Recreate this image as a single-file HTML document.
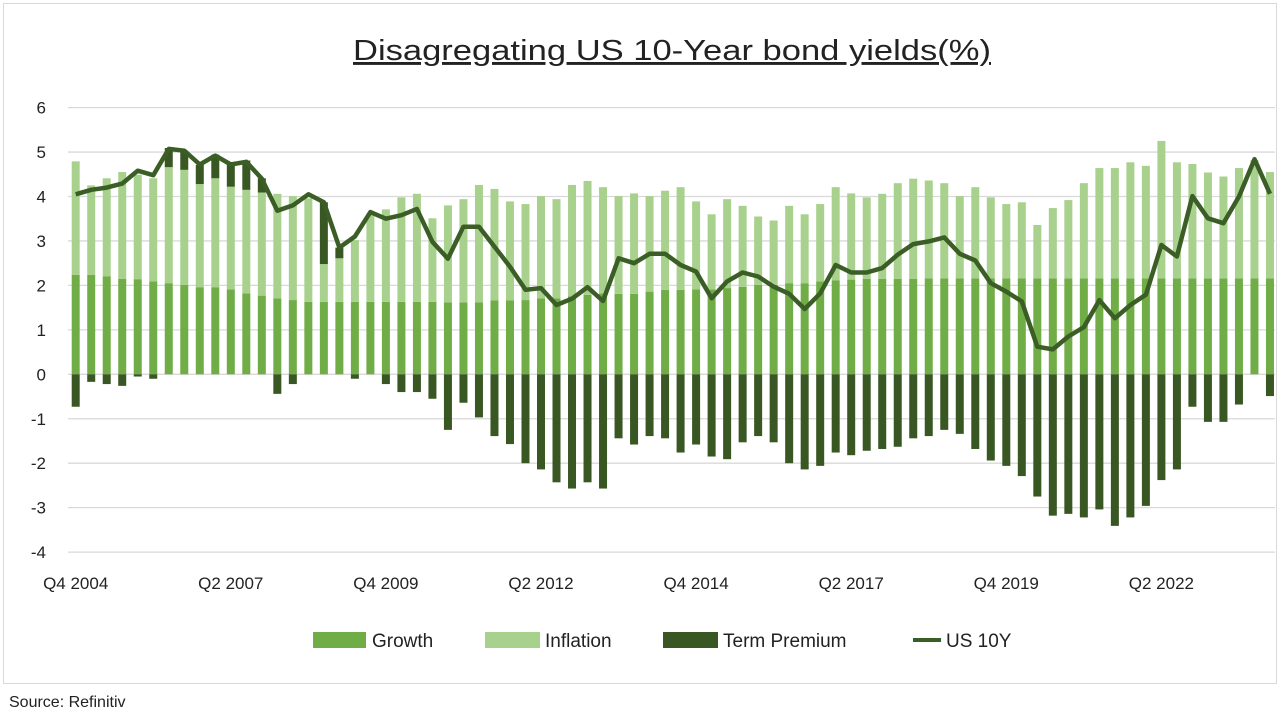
<!DOCTYPE html>
<html><head><meta charset="utf-8"><style>
html,body{margin:0;padding:0;background:#fff;}
body{width:1280px;height:720px;overflow:hidden;font-family:"Liberation Sans",sans-serif;}
</style></head><body>
<svg id="chart" width="1280" height="720" xmlns="http://www.w3.org/2000/svg" font-family="Liberation Sans, sans-serif">
<rect x="3.5" y="3.5" width="1273" height="680" fill="none" stroke="#d9d9d9" stroke-width="1"/>
<text x="353" y="60" font-size="29" textLength="638" lengthAdjust="spacingAndGlyphs" fill="#222" text-decoration="underline">Disagregating US 10-Year bond yields(%)</text>
<g id="grid"></g><g id="bars"></g><g id="line"></g><g id="axes"></g>
<g font-size="19" fill="#222">
<rect x="313" y="632" width="53" height="16" fill="#70ad47"/>
<text x="372" y="647">Growth</text>
<rect x="485" y="632" width="55" height="16" fill="#a9d18e"/>
<text x="545" y="647">Inflation</text>
<rect x="663" y="632" width="55" height="16" fill="#385723"/>
<text x="723" y="647">Term Premium</text>
<line x1="913" x2="941" y1="640" y2="640" stroke="#3b5e26" stroke-width="4"/>
<text x="946" y="647">US 10Y</text>
</g>
<text x="9" y="707" font-size="16" fill="#222">Source: Refinitiv</text>
</svg>
<script>
const growth=[2.24,2.24,2.2,2.15,2.14,2.09,2.05,2.01,1.96,1.96,1.91,1.82,1.77,1.71,1.67,1.63,1.63,1.63,1.63,1.63,1.63,1.63,1.63,1.63,1.62,
1.62,1.62,1.66,1.66,1.67,1.71,1.71,1.75,1.79,1.82,1.81,1.81,1.86,1.9,1.9,1.91,1.91,1.94,1.97,2.01,2.01,2.05,2.05,2.09,2.11,2.13,
2.15,2.15,2.15,2.15,2.16,2.16,2.16,2.16,2.16,2.16,2.16,2.16,2.16,2.16,2.16,2.16,2.16,2.16,2.16,2.16,2.16,2.16,2.16,2.16,2.16,2.16,2.16];
const inflation=[2.55,2.01,2.21,2.4,2.35,2.32,2.61,2.59,2.32,2.45,2.31,2.33,2.32,2.35,2.34,2.33,0.85,0.98,1.39,1.99,2.08,2.35,2.43,1.88,2.18,
2.32,2.64,2.51,2.23,2.16,2.3,2.23,2.51,2.56,2.39,2.2,2.26,2.15,2.23,2.31,1.98,1.69,2.0,1.82,1.54,1.45,1.74,1.55,1.74,2.1,1.94,
1.83,1.91,2.15,2.25,2.2,2.14,1.85,2.05,1.82,1.67,1.71,1.2,1.58,1.76,2.14,2.48,2.48,2.61,2.53,3.09,2.61,2.57,2.38,2.29,2.48,2.66,2.39];
const termPremium=[-0.73,-0.17,-0.22,-0.26,-0.05,-0.1,0.43,0.43,0.43,0.53,0.51,0.66,0.32,-0.44,-0.22,0,1.39,0.24,-0.1,0,-0.22,-0.4,-0.4,-0.55,-1.25,
-0.64,-0.97,-1.39,-1.57,-2.0,-2.14,-2.43,-2.57,-2.43,-2.57,-1.44,-1.58,-1.39,-1.44,-1.76,-1.58,-1.85,-1.91,-1.53,-1.39,-1.53,-2.0,-2.14,-2.06,-1.76,-1.82,
-1.72,-1.68,-1.63,-1.44,-1.39,-1.25,-1.34,-1.68,-1.94,-2.06,-2.29,-2.75,-3.18,-3.14,-3.22,-3.04,-3.41,-3.22,-2.96,-2.38,-2.14,-0.73,-1.07,-1.07,-0.68,0,-0.49];
const us10y=[4.05,4.15,4.2,4.29,4.58,4.48,5.07,5.03,4.72,4.92,4.72,4.78,4.4,3.68,3.8,4.05,3.87,2.85,3.1,3.65,3.5,3.58,3.72,2.98,2.6,
3.32,3.32,2.87,2.42,1.9,1.94,1.56,1.7,1.96,1.65,2.61,2.5,2.71,2.71,2.46,2.31,1.71,2.09,2.29,2.2,1.97,1.81,1.47,1.82,2.46,2.29,
2.29,2.39,2.69,2.93,2.99,3.08,2.71,2.56,2.05,1.86,1.64,0.62,0.56,0.85,1.06,1.67,1.26,1.56,1.79,2.91,2.65,4.01,3.51,3.4,4.0,4.84,4.06];
const yTicks=[6,5,4,3,2,1,0,-1,-2,-3,-4];
const xTickLabels=["Q4 2004","Q2 2007","Q4 2009","Q2 2012","Q4 2014","Q2 2017","Q4 2019","Q2 2022"];
const xTickIndex=[0,10,20,30,40,50,60,70];

const NS="http://www.w3.org/2000/svg";
const x0=75.7, step=15.51, bw=8;
const xs=i=>x0+i*step;
const ys=v=>374.3-44.45*v;
function mk(tag,attrs,parent){const e=document.createElementNS(NS,tag);for(const k in attrs)e.setAttribute(k,attrs[k]);parent.appendChild(e);return e;}
const grid=document.getElementById('grid'),bars=document.getElementById('bars'),ln=document.getElementById('line'),axes=document.getElementById('axes');
yTicks.forEach(t=>{
  const g=mk('line',{x1:68,x2:1275,y1:ys(t),y2:ys(t),stroke:'#d9d9d9','stroke-width':1.3},grid);
  
  
  const tx=mk('text',{x:46,y:ys(t)+6,'font-size':17,'text-anchor':'end',fill:'#222'},axes);
  tx.textContent=t;
  
  
});
xTickIndex.forEach((idx,k)=>{
  const tx=mk('text',{x:xs(idx),y:589,'font-size':17,'text-anchor':'middle',fill:'#222'},axes);
  tx.textContent=xTickLabels[k];
  
  
});
growth.forEach((g,i)=>{
  const x=xs(i)-bw/2;
  const r1=mk('rect',{x:x,y:ys(g),width:bw,height:ys(0)-ys(g),fill:'#70ad47'},bars);
  
  
  const inf=inflation[i];
  const r2=mk('rect',{x:x,y:ys(g+inf),width:bw,height:ys(g)-ys(g+inf),fill:'#a9d18e'},bars);
  
  
  const tp=termPremium[i];
  if(tp!==0){
    const base=tp>0?g+inf:0, top=base+tp;
    const r3=mk('rect',{x:x,y:Math.min(ys(base),ys(top)),width:bw,height:Math.abs(ys(base)-ys(top)),fill:'#385723'},bars);
    
    
  }
});
const pts=us10y.map((v,i)=>xs(i).toFixed(1)+','+ys(v).toFixed(1)).join(' ');
const pl=mk('polyline',{points:pts,fill:'none',stroke:'#3b5e26','stroke-width':4.5,'stroke-linejoin':'round'},ln);


</script>
</body></html>
